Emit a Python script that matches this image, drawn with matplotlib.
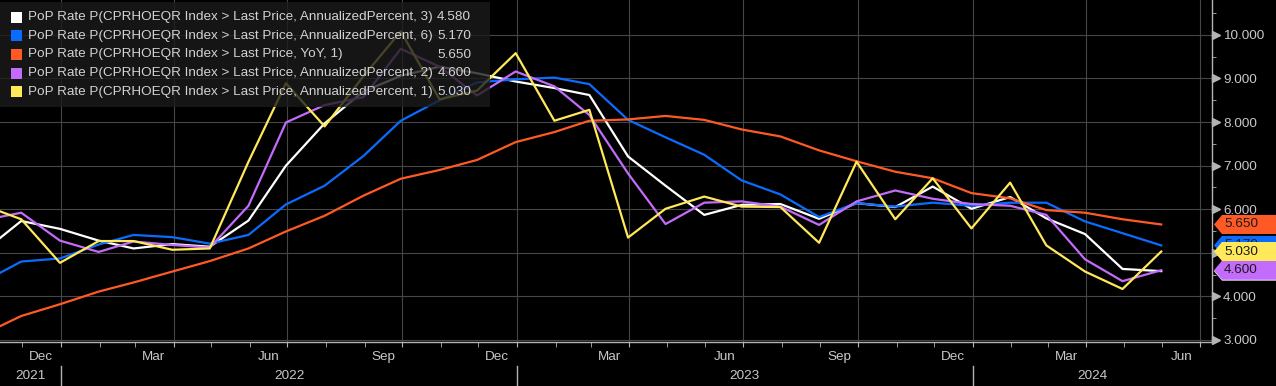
import numpy as np
import pandas as pd
import matplotlib
matplotlib.use("Agg")
import matplotlib.pyplot as plt
import matplotlib.dates as mdates
from matplotlib.patches import Polygon, Rectangle

# monthly observations (month end), Oct 2021 .. May 2024
months = pd.date_range("2021-10-31", periods=32, freq="ME")

ann3 = [5.04, 5.73, 5.55, 5.28, 5.10, 5.20, 5.14, 5.74, 7.00, 7.97, 8.70, 9.06,
        9.27, 9.12, 8.93, 8.78, 8.62, 7.21, 6.54, 5.87, 6.10, 6.12, 5.78, 6.14,
        6.05, 6.52, 6.01, 6.28, 5.79, 5.43, 4.63, 4.58]
ann6 = [4.34, 4.80, 4.87, 5.19, 5.41, 5.36, 5.21, 5.41, 6.11, 6.54, 7.22, 8.03,
        8.50, 8.91, 8.98, 9.02, 8.87, 8.05, 7.65, 7.25, 6.66, 6.34, 5.82, 6.14,
        6.06, 6.15, 6.08, 6.15, 6.15, 5.72, 5.45, 5.17]
yoy = [3.14, 3.55, 3.82, 4.11, 4.32, 4.57, 4.81, 5.10, 5.49, 5.85, 6.31, 6.70,
       6.90, 7.13, 7.54, 7.77, 8.03, 8.06, 8.14, 8.05, 7.83, 7.67, 7.35, 7.10,
       6.86, 6.71, 6.37, 6.25, 5.98, 5.92, 5.77, 5.65]
ann2 = [5.75, 5.92, 5.28, 5.02, 5.26, 5.18, 5.12, 6.08, 7.99, 8.39, 8.57, 9.68,
        9.27, 8.61, 9.16, 8.82, 8.16, 6.82, 5.66, 6.15, 6.18, 6.06, 5.64, 6.18,
        6.43, 6.24, 6.12, 6.08, 5.87, 4.85, 4.35, 4.60]
ann1 = [6.09, 5.77, 4.77, 5.27, 5.27, 5.07, 5.10, 7.09, 8.89, 7.90, 9.05, 10.08,
        8.52, 8.72, 9.58, 8.03, 8.28, 5.35, 6.01, 6.29, 6.06, 6.05, 5.23, 7.09,
        5.77, 6.71, 5.56, 6.61, 5.17, 4.57, 4.17, 5.03]

names = [
    "PoP Rate P(CPRHOEQR Index > Last Price, AnnualizedPercent, 3)",
    "PoP Rate P(CPRHOEQR Index > Last Price, AnnualizedPercent, 6)",
    "PoP Rate P(CPRHOEQR Index > Last Price, YoY, 1)",
    "PoP Rate P(CPRHOEQR Index > Last Price, AnnualizedPercent, 2)",
    "PoP Rate P(CPRHOEQR Index > Last Price, AnnualizedPercent, 1)",
]
values = [ann3, ann6, yoy, ann2, ann1]
colors = ["#ffffff", "#0a6cff", "#ff5a26", "#c36bfa", "#ffe85a"]

years = [2021, 2022, 2023, 2024]

FONT = "Liberation Sans"
FS = 9.7
TXT = "#c8c8c8"
GRID = "#464646"
AXC = "#b4b4b4"

W, H = 1276, 386
fig = plt.figure(figsize=(W / 100, H / 100), dpi=100, facecolor="black")
ax_w, ax_h = 1212, 342
ax = fig.add_axes([0, (H - ax_h) / H, ax_w / W, ax_h / H])
ax.set_facecolor("black")

x0 = mdates.date2num(pd.Timestamp("2021-11-13"))
x1 = mdates.date2num(pd.Timestamp("2024-07-10 16:00"))
ymin, ymax = 2.954, 10.80
ax.set_xlim(x0, x1)
ax.set_ylim(ymin, ymax)
px_per_unit = ax_h / (ymax - ymin)

for vals, col in zip(values, colors):
    ax.plot(months, vals, color=col, lw=1.6, zorder=3)

# axes / grid
ax.xaxis.set_major_locator(mdates.MonthLocator(bymonth=[1, 4, 7, 10]))
ax.xaxis.set_minor_locator(mdates.MonthLocator())
ax.set_yticks(np.arange(3, 11))
ax.set_yticks(np.arange(3.5, 11, 1.0), minor=True)
ax.grid(which="major", color=GRID, lw=0.8)
ax.set_axisbelow(True)
ax.yaxis.tick_right()
ax.yaxis.set_major_formatter(plt.FuncFormatter(lambda v, p: f"{v:.3f}"))
ax.tick_params(axis="y", which="major", length=0, pad=8, labelcolor=TXT,
               labelsize=FS, labelfontfamily=FONT)
ax.tick_params(axis="y", which="minor", length=3, color=AXC, direction="out")
ax.tick_params(axis="x", which="both", length=3.5, color=AXC, direction="out",
               labelbottom=False)
for s in ["left", "top"]:
    ax.spines[s].set_visible(False)
for s in ["right", "bottom"]:
    ax.spines[s].set_color(AXC)
    ax.spines[s].set_linewidth(1)

# arrow-like major ticks on the value axis
ax.plot([1 + 4 / ax_w] * 8, np.arange(3, 11), transform=ax.get_yaxis_transform(),
        marker=">", ms=5.5, color=AXC, ls="none", clip_on=False, zorder=4)

# month and year labels
xt = ax.get_xaxis_transform()
for y in range(2021, 2025):
    for m, lab in zip([3, 6, 9, 12], ["Mar", "Jun", "Sep", "Dec"]):
        mid = pd.Timestamp(y, m, 1) + pd.Timedelta(days=15)
        xm = mdates.date2num(mid)
        if x0 < xm < x1:
            ax.text(xm, -15 / ax_h, lab, transform=xt, ha="center", va="center",
                    color=TXT, fontsize=FS, family=FONT)
edges = [x0] + [mdates.date2num(pd.Timestamp(y, 1, 1)) for y in years[1:]] + [x1]
for i, y in enumerate(years):
    ax.text((edges[i] + edges[i + 1]) / 2, -34 / ax_h, str(y), transform=xt,
            ha="center", va="center", color=TXT, fontsize=FS, family=FONT)
    if i > 0:
        ax.plot([edges[i], edges[i]], [-24 / ax_h, -44 / ax_h], transform=xt,
                color=AXC, lw=1, clip_on=False)

# last value tags on the right (later ones cover earlier ones)
yt = ax.get_yaxis_transform()
hh = 9.5 / px_per_unit
for k, (vals, col) in enumerate(zip(values, colors)):
    v = vals[-1]
    xa, xb, xc = 1214 / ax_w, 1222 / ax_w, 1290 / ax_w
    poly = Polygon([(xa, v), (xb, v + hh), (xc, v + hh), (xc, v - hh), (xb, v - hh)],
                   closed=True, transform=yt, facecolor=col, edgecolor="none",
                   clip_on=False, zorder=6 + 2 * k)
    ax.add_patch(poly)
    ax.text(1224 / ax_w, v, f"{v:.3f}", transform=yt, ha="left", va="center",
            color="#1a1a1a", fontsize=FS, family=FONT, clip_on=False,
            zorder=7 + 2 * k)

# legend panel
fig.add_artist(Rectangle((0, 1 - 107 / H), 490 / W, 105 / H, transform=fig.transFigure,
                         facecolor="#1b1b1b", edgecolor="none", alpha=0.8, zorder=5))
for i, (nm, vals, col) in enumerate(zip(names, values, colors)):
    yc = 1 - (17.3 + i * 18.6) / H
    fig.add_artist(Rectangle((11 / W, yc - 5.5 / H), 11 / W, 11 / H,
                             transform=fig.transFigure, facecolor=col,
                             edgecolor="none", zorder=6))
    fig.text(28.5 / W, yc, nm, ha="left", va="center", color="#d2d2d2",
             fontsize=FS, family=FONT, zorder=6)
    fig.text(471 / W, yc, f"{vals[-1]:.3f}", ha="right", va="center",
             color="#d2d2d2", fontsize=FS, family=FONT, zorder=6)

fig.savefig("out.png", dpi=100, facecolor="black")
